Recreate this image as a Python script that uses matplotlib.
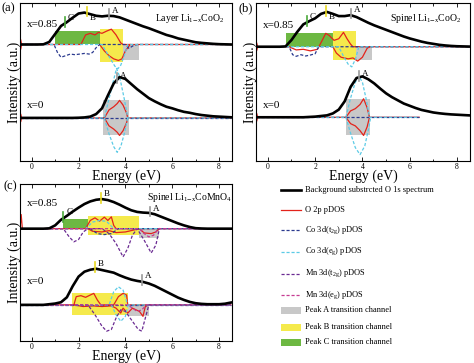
import numpy as np
import matplotlib
matplotlib.use('Agg')
import matplotlib.pyplot as plt
from matplotlib.patches import Rectangle

plt.rcParams['font.family'] = ['Liberation Serif', 'DejaVu Serif']
plt.rcParams['mathtext.fontset'] = 'stix'
plt.rcParams['mathtext.default'] = 'regular'

nan = np.nan

# shared energy grid of the O 1s spectra (eV)
energy = np.arange(-0.5, 8.51, 0.25)

# background subtracted O 1s spectra, height above each trace's baseline
a_hi_spec = [0, 0, 0, 0, 0.05, 0.8, 3.3, 5.8, 7.0, 8.4, 9.7, 10.0, 9.5, 9.0, 8.8, 9.0, 8.9, 8.5, 7.8,
             7.1, 6.4, 5.7, 5.1, 4.4, 3.7, 3.0, 2.5, 1.9, 1.5, 1.1, 0.7, 0.5, 0.35, 0.2, 0.1, 0.05, 0]
a_lo_spec = [0, 0, 0, 0, 0, 0, 0, 0, 0, 0, 0.05, 0.15, 0.4, 1.2, 3.0, 7.0, 10.8, 12.8, 12.2,
             10.6, 9.0, 7.6, 6.2, 5.2, 4.3, 3.5, 3.0, 2.4, 1.9, 1.6, 1.2, 0.9, 0.7, 0.5, 0.4, 0.3, 0.2]
b_hi_spec = [0, 0, 0, 0, 0, 0.1, 2.1, 4.7, 7.0, 8.0, 8.9, 10.3, 10.9, 10.3, 9.6, 9.6, 9.9, 9.3, 8.4,
             7.5, 6.7, 6.0, 5.3, 4.6, 3.9, 3.2, 2.6, 2.1, 1.6, 1.2, 0.9, 0.6, 0.4, 0.25, 0.15, 0.1, 0.05]
b_lo_spec = [0, 0, 0, 0, 0, 0, 0, 0, 0, 0.1, 0.2, 0.4, 0.6, 1.2, 2.4, 5.0, 9.5, 12.3, 12.8,
             11.9, 10.6, 9.0, 7.5, 6.3, 5.3, 4.3, 3.6, 2.9, 2.3, 1.9, 1.5, 1.25, 1.05, 0.9, 0.8, 0.7, 0.6]
c_hi_spec = [0, 0, 0, 0, 0, 0.1, 1.0, 2.7, 3.9, 5.2, 6.4, 7.5, 8.3, 8.8, 9.0, 8.7, 8.1, 7.3, 6.4,
             5.6, 5.1, 4.9, 4.8, 4.4, 3.7, 3.0, 2.3, 1.6, 1.0, 0.5, 0.15, 0.05, 0, 0, 0, 0, 0]
c_lo_spec = [0, 0, 0, 0, 0, 0.2, 0.4, 0.8, 2.3, 5.7, 8.6, 10.1, 10.7, 11.0, 10.6, 10.2, 9.8, 9.0, 8.3,
             7.7, 7.3, 7.0, 6.5, 5.8, 4.9, 4.0, 3.1, 2.2, 1.5, 0.9, 0.5, 0.3, 0.2, 0.2, 0.2, 0.35, 0.7]

# projected DOS (nan splits the mirrored lobes)
a_hi_o2p_E = [-0.5, -0.47, -0.43, -0.47, -0.5, nan, -0.43, 2.1, 2.3, 2.5, 2.7, 2.85, 3.0, 3.2, 3.4, 3.6, 3.8, 3.9, 8.5,
              nan, 2.9, 3.1, 3.3, 3.5, 3.7, 3.85, 4.0, 4.2]
a_hi_o2p = [0, 1.5, 0, -1.5, 0, nan, 0, 0, 3.0, 3.5, 3.0, 3.8, 3.5, 4.2, 4.8, 3.0, 0.5, 0, 0,
            nan, 0, -2.0, -3.5, -4.5, -5.0, -4.5, -2.0, 0]
a_hi_cot2g_E = [-0.5, 0.95, 1.1, 1.25, 1.45, 1.65, 1.85, 2.05, 2.25, 2.45, 2.6, 2.75, 2.9, 4.0, 4.15, 4.35, 4.5, 8.5]
a_hi_cot2g = [0, 0, -2.5, -4.0, -3.5, -3.0, -3.2, -3.0, -2.8, -3.0, -2.5, -1.0, 0, 0, -1.2, -0.3, 0, 0]
a_hi_coeg_E = [-0.5, 3.0, 3.2, 3.4, 3.55, 3.68, 3.8, 3.95, 4.1, 8.5]
a_hi_coeg = [0, 0, -2.5, -5.0, -6.8, -7.6, -6.5, -3.5, 0, 0]

a_lo_o2p_E = [-0.5, -0.47, -0.43, -0.47, -0.5, nan, -0.43, 3.1, 3.3, 3.5, 3.65, 3.75, 3.9, 4.05, 4.1, 8.5,
              nan, 3.1, 3.3, 3.5, 3.65, 3.75, 3.9, 4.05, 4.1]
a_lo_o2p = [0, 1.2, 0, -1.2, 0, nan, 0, 0, 2.5, 3.5, 4.5, 5.5, 4.0, 1.5, 0, 0,
            nan, 0, -2.5, -3.5, -4.5, -5.5, -4.0, -1.5, 0]
a_lo_cot2g_E = [-0.5, 8.5]
a_lo_cot2g = [0, 0]
a_lo_coeg_E = [-0.5, 3.1, 3.3, 3.5, 3.62, 3.75, 3.95, 4.1, 8.5, nan, 3.1, 3.3, 3.5, 3.65, 3.8, 3.95, 4.1]
a_lo_coeg = [0, 0, 6.0, 12.0, 15.5, 13.0, 6.0, 0, 0, nan, 0, -5.0, -9.0, -10.8, -9.0, -5.0, 0]

b_hi_o2p_E = [-0.5, -0.47, -0.43, -0.47, -0.5, nan, -0.43, 0.9, 1.2, 1.5, 1.8, 2.1, 2.3, 2.45, 2.6, 2.8, 3.0, 3.2,
              3.35, 3.5, 3.6, 8.5, nan, 2.75, 2.9, 3.1, 3.4, 3.6, 3.8, 4.0, 4.2, 4.3]
b_hi_o2p = [0, 1.2, 0, -1.2, 0, nan, 0, 0, -1.0, -0.8, -1.3, -0.8, 2.0, 4.2, 3.5, 2.0, 2.5, 4.5,
            2.5, 0.8, 0, 0, nan, 0, -2.0, -3.3, -3.8, -3.5, -4.5, -3.3, -0.5, 0]
b_hi_cot2g_E = [-0.5, 0.9, 1.05, 1.2, 1.4, 1.6, 1.8, 2.0, 2.15, 8.5]
b_hi_cot2g = [0, 0, -2.5, -3.0, -2.5, -2.9, -2.6, -2.2, 0, 0]
b_hi_coeg_E = [-0.5, 3.0, 3.2, 3.4, 3.55, 3.7, 3.85, 8.5]
b_hi_coeg = [0, 0, -3.0, -5.5, -6.3, -4.0, 0, 0]

b_lo_o2p_E = [-0.5, -0.47, -0.43, -0.47, -0.5, nan, -0.43, 3.3, 3.5, 3.7, 3.9, 4.05, 4.2, 4.3, 6.4,
              nan, 3.3, 3.5, 3.7, 3.9, 4.05, 4.2, 4.3]
b_lo_o2p = [0, 1.2, 0, -1.2, 0, nan, 0, 0, 2.0, 2.7, 4.0, 5.8, 3.0, 0, 0,
            nan, 0, -2.0, -2.7, -4.2, -5.7, -3.0, 0]
b_lo_cot2g_E = [-0.5, 6.4]
b_lo_cot2g = [0, 0]
b_lo_coeg_E = [-0.5, 3.3, 3.5, 3.7, 3.85, 4.0, 4.15, 4.3, 6.4, nan, 3.3, 3.5, 3.7, 3.9, 4.1, 4.25, 4.35]
b_lo_coeg = [0, 0, 6.0, 11.0, 12.8, 11.0, 6.0, 0, 0, nan, 0, -5.0, -9.5, -11.7, -9.0, -4.0, 0]

c_hi_o2p_E = [-0.5, -0.45, -0.4, 2.3, 2.5, 2.7, 2.9, 3.1, 3.25, 3.4, 3.5, 3.6, 8.5,
              nan, 2.4, 2.6, 3.0, 3.3, 3.6, 4.0, 4.3, 4.6, 4.8, 5.1, 5.3, 5.45]
c_hi_o2p = [0, 4.3, 0, 0, 2.5, 3.3, 2.3, 3.5, 2.5, 3.6, 1.0, 0, 0,
            nan, 0, -0.8, -1.0, -0.6, -1.2, -1.0, -0.5, 0, -1.3, -1.5, -1.0, 0]
c_hi_cot2g_E = [-0.5, 2.5, 2.8, 3.1, 3.4, 3.7, 8.5]
c_hi_cot2g = [0, 0, -1.5, -1.8, -1.5, 0, 0]
c_hi_coeg_E = [-0.5, 2.3, 2.6, 2.9, 3.2, 3.5, 8.5]
c_hi_coeg = [0, 0, 2.0, 2.5, 2.2, 0, 0]
c_hi_mnt2g_E = [-0.5, 1.35, 1.6, 1.8, 2.0, 2.2, 2.4, 3.0, 3.3, 3.6, 3.9, 4.1, 4.3, 4.5, 4.8, 5.1, 5.3, 5.45, 8.5]
c_hi_mnt2g = [0, 0, -2.5, -4.0, -3.3, -1.0, 0, 0, -1.5, -4.5, -8.6, -6.0, -2.0, 0, -3.5, -7.4, -5.0, 0, 0]
c_hi_mneg_E = [-0.5, 4.6, 4.8, 5.0, 5.2, 5.4, 8.5]
c_hi_mneg = [0, 0, -1.5, -2.5, -2.0, 0, 0]

c_lo_o2p_E = [-0.5, 1.8, 1.9, 2.1, 2.3, 2.5, 2.65, 2.8, 2.95, 3.5, 3.7, 3.9, 4.05, 4.1, 8.5,
              nan, 1.8, 2.2, 2.6, 3.0, 3.4, 3.6, 3.8, 3.9, 4.1, 4.3, 4.6, 4.75, 4.85, 5.0]
c_lo_o2p = [0, 0, 2.5, 2.8, 2.3, 3.0, 3.5, 1.5, 0, 0, 2.5, 3.5, 3.0, 0, 0,
            nan, 0, -0.5, -0.3, -0.5, -0.3, -1.0, -2.5, -1.0, -2.5, -1.0, -2.0, -3.5, -0.5, 0]
c_lo_cot2g_E = [-0.5, 8.5]
c_lo_cot2g = [0, 0]
c_lo_coeg_E = [-0.5, 3.3, 3.5, 3.7, 3.9, 4.1, 8.5, nan, 3.4, 3.6, 3.8, 4.0, 4.1]
c_lo_coeg = [0, 0, 4.0, 5.5, 4.5, 0, 0, nan, 0, -3.0, -5.0, -3.5, 0]
c_lo_mnt2g_E = [-0.5, 2.4, 2.7, 3.0, 3.2, 3.4, 3.6, 3.8, 4.0, 4.3, 4.55, 4.7, 4.85, 5.0, 8.5]
c_lo_mnt2g = [0, 0, -3.0, -6.5, -8.0, -7.5, -4.0, -1.5, -2.0, -5.0, -7.5, -8.0, -4.0, 0, 0]
c_lo_mneg_E = [-0.5, 4.1, 4.3, 4.5, 4.7, 4.9, 8.5]
c_lo_mneg = [0, 0, -1.0, -2.0, -1.5, 0, 0]

# transition channels: (peak, E start, E end, low, high)
a_hi_boxes = [('C', 1.0, 2.9, 0.0, 4.2), ('B', 2.9, 3.9, -5.5, 5.0), ('A', 3.9, 4.6, -5.0, -0.2)]
a_lo_boxes = [('A', 3.05, 4.15, -5.5, 5.5)]
b_hi_boxes = [('C', 0.78, 2.74, 0.0, 4.2), ('B', 2.74, 3.73, -4.3, 4.9), ('A', 3.73, 4.4, -4.3, 0.0)]
b_lo_boxes = [('A', 3.3, 4.32, -5.7, 5.8)]
c_hi_boxes = [('C', 1.35, 2.4, 0.0, 2.8), ('B', 2.4, 4.6, -2.0, 3.8), ('A', 4.6, 5.45, -2.7, 0.0)]
c_lo_boxes = [('B', 1.74, 4.1, -3.0, 3.5), ('A', 4.1, 5.0, -3.5, 0.0)]

# peak markers on the spectra
a_hi_peaks = [('C', 1.4), ('B', 2.35), ('A', 3.3)]
a_lo_peaks = [('A', 3.65)]
b_hi_peaks = [('C', 1.65), ('B', 2.45), ('A', 3.5)]
b_lo_peaks = [('A', 3.85)]
c_hi_peaks = [('C', 1.35), ('B', 2.95), ('A', 5.05)]
c_lo_peaks = [('B', 2.7), ('A', 4.7)]

box_col = {'A': '#c8c8c8', 'B': '#f5ea4c', 'C': '#6db842'}
tick_col = {'A': '#9a9a9a', 'B': '#e8d820', 'C': '#4aa83a'}
col = {'o2p': '#e3231b', 'cot2g': '#2b3a8f', 'coeg': '#5ccbe6', 'mnt2g': '#6a2a92', 'mneg': '#c63b92'}

W, H = 474, 363
fig = plt.figure(figsize=(W / 100, H / 100), dpi=100)


def add_panel(x0, y0, x1, y1, top):
    ax = fig.add_axes([x0 / W, 1 - y1 / H, (x1 - x0) / W, (y1 - y0) / H])
    ax.set_xlim(-0.5, 8.55)
    ax.set_ylim(0, top)
    ax.set_yticks([])
    ax.set_xticks([0, 2, 4, 6, 8])
    ax.set_xticks([1, 3, 5, 7], minor=True)
    ax.tick_params(axis='x', which='major', direction='in', length=3, width=0.6, labelsize=5.5, pad=1.2, top=True)
    ax.tick_params(axis='x', which='minor', direction='in', length=1.8, width=0.6, top=True)
    for s in ax.spines.values():
        s.set_linewidth(0.8)
    ax.set_xlabel('Energy (eV)', fontsize=10, labelpad=-0.5)
    ax.set_ylabel('Intensity (a.u.)', fontsize=10, labelpad=-0.5)
    return ax


def draw_trace(ax, base, spec, boxes, peaks, pdos, b_offsets):
    for key, e0, e1, lo, hi in boxes:
        ax.add_patch(Rectangle((e0, base + lo), e1 - e0, hi - lo, color=box_col[key], lw=0, zorder=1))
    for name, E, v in pdos:
        E = np.array(E, dtype=float)
        v = np.array(v, dtype=float)
        if name == 'o2p':
            ax.plot(E, base + v, color=col[name], lw=0.9, zorder=2)
        else:
            ax.plot(E, base + v, color=col[name], lw=0.9, ls=(0, (2.5, 1.5)), zorder=3)
    y = base + np.array(spec)
    ax.plot(energy, y, color='black', lw=1.9, zorder=4)
    for (key, e), off in zip(peaks, b_offsets):
        yp = np.interp(e, energy, y)
        ax.plot([e, e], [yp - 1.0, yp + 2.0], color=tick_col[key], lw=1.2, zorder=5)
        ax.text(e + 0.12, yp + off, key, fontsize=6.5, ha='left', va='center', zorder=6)


# (a) layered LiCoO2
ax_a = add_panel(20, 3, 232, 161, 49.5)
draw_trace(ax_a, 36.5, a_hi_spec, a_hi_boxes, a_hi_peaks,
           [('o2p', a_hi_o2p_E, a_hi_o2p), ('cot2g', a_hi_cot2g_E, a_hi_cot2g), ('coeg', a_hi_coeg_E, a_hi_coeg)],
           [1.8, -1.6, 1.6])
draw_trace(ax_a, 13.5, a_lo_spec, a_lo_boxes, a_lo_peaks,
           [('o2p', a_lo_o2p_E, a_lo_o2p), ('cot2g', a_lo_cot2g_E, a_lo_cot2g), ('coeg', a_lo_coeg_E, a_lo_coeg)],
           [1.0])
ax_a.text(-0.22, 42.7, 'x=0.85', fontsize=8, va='center')
ax_a.text(-0.22, 17.5, 'x=0', fontsize=8, va='center')
ax_a.text(8.2, 44.7, r'Layer Li$_{1\mathrm{-x}}$CoO$_2$', fontsize=7, ha='right', va='center')
fig.text(2 / W, 1 - 8 / H, '(a)', fontsize=9, va='center')

# (b) spinel LiCoO2
ax_b = add_panel(256, 3, 470, 161, 49.5)
draw_trace(ax_b, 35.8, b_hi_spec, b_hi_boxes, b_hi_peaks,
           [('o2p', b_hi_o2p_E, b_hi_o2p), ('cot2g', b_hi_cot2g_E, b_hi_cot2g), ('coeg', b_hi_coeg_E, b_hi_coeg)],
           [1.8, -1.6, 1.6])
draw_trace(ax_b, 13.7, b_lo_spec, b_lo_boxes, b_lo_peaks,
           [('o2p', b_lo_o2p_E, b_lo_o2p), ('cot2g', b_lo_cot2g_E, b_lo_cot2g), ('coeg', b_lo_coeg_E, b_lo_coeg)],
           [1.0])
ax_b.text(-0.22, 42.3, 'x=0.85', fontsize=8, va='center')
ax_b.text(-0.22, 17.5, 'x=0', fontsize=8, va='center')
ax_b.text(8.2, 44.7, r'Spinel Li$_{1\mathrm{-x}}$CoO$_2$', fontsize=7, ha='right', va='center')
fig.text(239 / W, 1 - 8 / H, '(b)', fontsize=9, va='center')

# (c) spinel LiCoMnO4
ax_c = add_panel(20, 184, 232, 341, 47.8)
draw_trace(ax_c, 34.2, c_hi_spec, c_hi_boxes, c_hi_peaks,
           [('o2p', c_hi_o2p_E, c_hi_o2p), ('cot2g', c_hi_cot2g_E, c_hi_cot2g), ('coeg', c_hi_coeg_E, c_hi_coeg),
            ('mnt2g', c_hi_mnt2g_E, c_hi_mnt2g), ('mneg', c_hi_mneg_E, c_hi_mneg)],
           [2.0, 1.6, 1.4])
draw_trace(ax_c, 11.0, c_lo_spec, c_lo_boxes, c_lo_peaks,
           [('o2p', c_lo_o2p_E, c_lo_o2p), ('cot2g', c_lo_cot2g_E, c_lo_cot2g), ('coeg', c_lo_coeg_E, c_lo_coeg),
            ('mnt2g', c_lo_mnt2g_E, c_lo_mnt2g), ('mneg', c_lo_mneg_E, c_lo_mneg)],
           [1.6, 1.8])
ax_c.text(-0.22, 42.0, 'x=0.85', fontsize=8, va='center')
ax_c.text(-0.22, 18.0, 'x=0', fontsize=8, va='center')
ax_c.text(8.55, 43.6, r'Spinel Li$_{1\mathrm{-x}}$CoMnO$_4$', fontsize=7, ha='right', va='center')
fig.text(3 / W, 1 - 186 / H, '(c)', fontsize=9, va='center')

# legend drawn in figure pixels
leg_labels = ['Background substrcted O 1s spectrum', 'O 2p pDOS', r'Co 3d(t$_{2g}$) pDOS',
              r'Co 3d(e$_g$) pDOS', r'Mn 3d(t$_{2g}$) pDOS', r'Mn 3d(e$_g$) pDOS',
              'Peak A transition channel', 'Peak B transition channel', 'Peak C transition channel']
leg = fig.add_axes([0, 0, 1, 1])
leg.set_xlim(0, W)
leg.set_ylim(H, 0)
leg.axis('off')
leg_y = [190, 209.5, 230, 251.5, 273.5, 295, 310.5, 327, 342.5]
leg_style = [('black', '-', 1.9), (col['o2p'], '-', 0.9), (col['cot2g'], '--', 0.9), (col['coeg'], '--', 0.9),
             (col['mnt2g'], '--', 0.9), (col['mneg'], '--', 0.9), None, None, None]
leg_box = [None, None, None, None, None, None, 'A', 'B', 'C']
for lab, yy, st, bx in zip(leg_labels, leg_y, leg_style, leg_box):
    if st is not None:
        c, ls, lw = st
        leg.plot([281, 301], [yy, yy], color=c, ls=ls if ls == '-' else (0, (2.5, 1.5)), lw=lw)
    else:
        leg.add_patch(Rectangle((281, yy - 3.5), 20, 7, color=box_col[bx], lw=0))
    leg.text(305, yy, lab, fontsize=6, va='center', ha='left')

fig.savefig('out.png', dpi=100)
